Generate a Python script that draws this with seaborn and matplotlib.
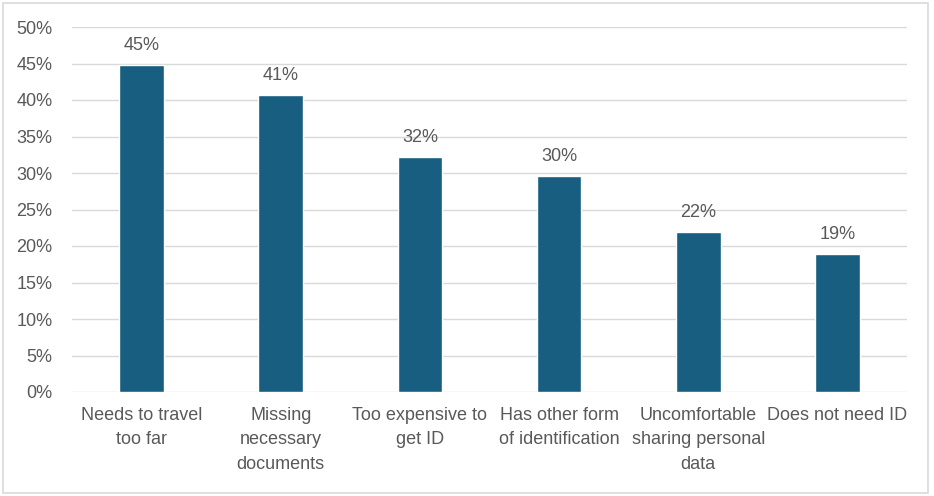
import matplotlib
matplotlib.use("Agg")
import matplotlib.pyplot as plt
import matplotlib.patches as mpatches
from matplotlib.ticker import PercentFormatter
import seaborn as sns
import pandas as pd

# Data
reasons = [
    "Needs to travel\ntoo far",
    "Missing\nnecessary\ndocuments",
    "Too expensive to\nget ID",
    "Has other form\nof identification",
    "Uncomfortable\nsharing personal\ndata",
    "Does not need ID",
]
shares = [44.8, 40.7, 32.2, 29.6, 21.9, 18.9]
shown_labels = ["45%", "41%", "32%", "30%", "22%", "19%"]
y_ticks = [0, 5, 10, 15, 20, 25, 30, 35, 40, 45, 50]

df = pd.DataFrame({"Reason": reasons, "Share": shares})

sns.set_style("white")
plt.rcParams["font.family"] = ["Liberation Sans Narrow", "Liberation Sans", "DejaVu Sans"]

bar_color = "#175e80"
text_color = "#595959"

fig = plt.figure(figsize=(9.34, 4.96), dpi=100)
ax = fig.add_axes([72 / 934, 1 - 392 / 496, (907 - 72) / 934, (392 - 27) / 496])

sns.barplot(data=df, x="Reason", y="Share", color=bar_color, width=0.32,
            saturation=1, ax=ax, zorder=3)

# value labels above bars
for i, (v, lab) in enumerate(zip(shares, shown_labels)):
    ax.text(i, v + 1.5, lab, ha="center", va="bottom", fontsize=13, color=text_color)

ax.set_ylim(0, 50)
ax.set_yticks(y_ticks)
ax.yaxis.set_major_formatter(PercentFormatter(decimals=0))
ax.grid(axis="y", color="#d9d9d9", linewidth=1, zorder=0)
ax.set_axisbelow(True)
for s in ax.spines.values():
    s.set_visible(False)
ax.tick_params(axis="both", length=0, labelsize=13, colors=text_color)
ax.tick_params(axis="y", pad=14)
ax.tick_params(axis="x", pad=11)
for t in ax.get_xticklabels():
    t.set_linespacing(1.55)
ax.set_xlabel("")
ax.set_ylabel("")

# light frame around the whole chart
fig.patches.append(mpatches.Rectangle((3 / 934, 3 / 496), 925 / 934, 490 / 496,
                                      transform=fig.transFigure, fill=False,
                                      edgecolor="#d9d9d9", linewidth=1.2))

fig.savefig("out.png", dpi=100)
